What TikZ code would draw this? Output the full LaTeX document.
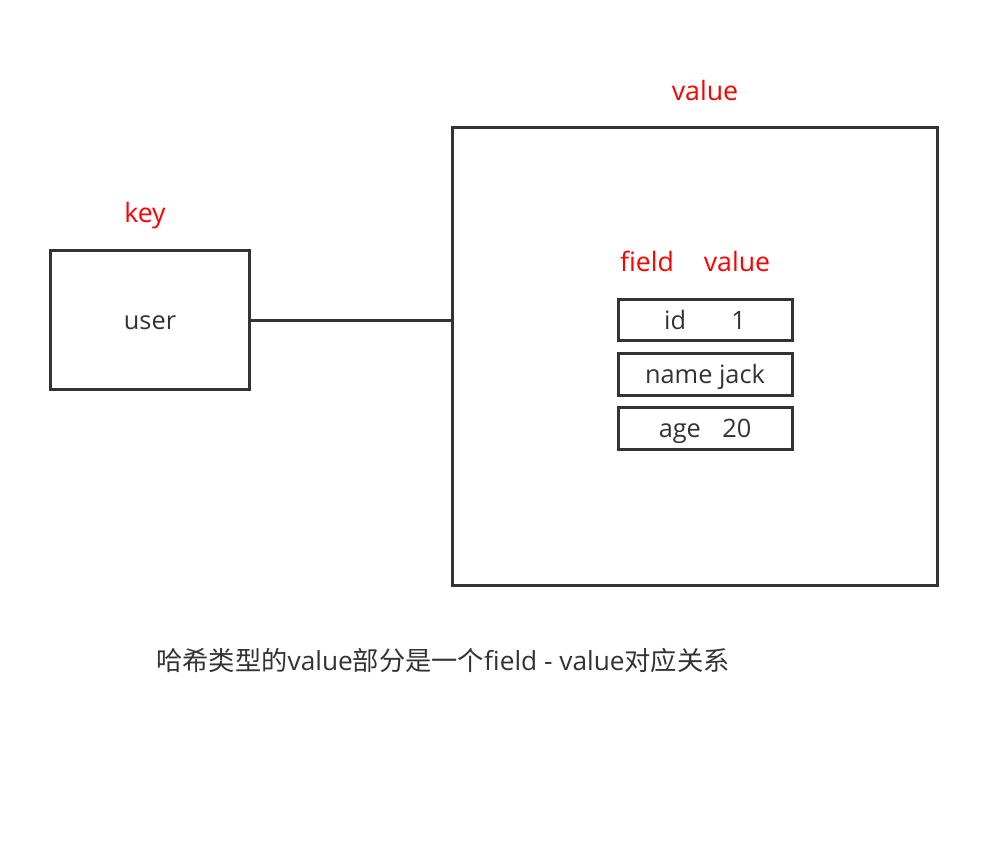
\documentclass[tikz,border=0pt]{standalone}
\usepackage{fontspec}
\setmainfont{Open Sans}
\newfontfamily\cjk{Noto Sans CJK SC}
\usetikzlibrary{positioning}
\definecolor{boxgray}{RGB}{51, 51, 51}
\definecolor{labelred}{RGB}{255, 0, 0}

\begin{document}
\begin{tikzpicture}[x=0.75pt, y=-0.75pt]
            \tikzstyle{box} = [rectangle, draw=boxgray, line width=2.25pt, text=boxgray, font=\fontsize{19}{23}\selectfont, text height=16pt, text depth=2pt]
            \tikzstyle{row} = [box, minimum width=130.5pt, minimum height=31pt, inner sep=0pt]
            \tikzstyle{tag} = [text=labelred, font=\fontsize{20}{24}\selectfont]
            \useasboundingbox (0,0) rectangle (988,850);

            \node[tag] (keytag) at (145,216) {key};
            \node[box, minimum width=149pt, minimum height=104pt] (user) at (150,320) {user};

            \node[tag] (valtag) at (705,90) {value};
            \node[box, minimum width=363.5pt, minimum height=344pt] (valbox) at (695,356.5) {};

            \node[tag] (fieldtag) at (647,261) {field};
            \node[tag] (valuetag) at (737,261) {value};

            \node[row] (r1) at (705,320) {id\hspace{34pt}1};
            \node[row] (r2) at (705,374.5) {name jack};
            \node[row] (r3) at (705,428.5) {age\hspace{16pt}20};

            \draw[boxgray, line width=2.25pt] (user.east) -- (user.east -| valbox.west);

            \node[text=boxgray, font=\fontsize{19.7}{23}\selectfont] (note) at (443,660)
                {{\cjk 哈希类型的}value{\cjk 部分是一个}field - value{\cjk 对应关系}};
        \end{tikzpicture}
\end{document}
